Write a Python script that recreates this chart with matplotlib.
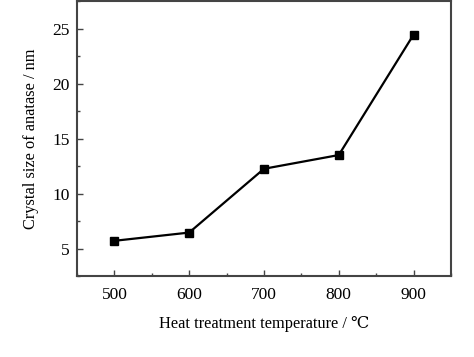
import matplotlib
matplotlib.use('Agg')
import matplotlib.pyplot as plt
from matplotlib.ticker import MultipleLocator

plt.rcParams['font.family'] = ['Liberation Serif', 'DejaVu Serif', 'Noto Sans CJK SC']

temps = [500, 600, 700, 800, 900]
crystal_size = [5.7, 6.45, 12.25, 13.5, 24.45]

fig = plt.figure(figsize=(4.74, 3.57), dpi=100)
ax = fig.add_axes([0.1624, 0.2269, 0.789, 0.770])

ax.plot(temps, crystal_size, color='black', lw=1.6, marker='s', ms=5.5)

ax.set_xlim(450, 950)
ax.set_ylim(2.5, 27.5)
ax.xaxis.set_major_locator(MultipleLocator(100))
ax.xaxis.set_minor_locator(MultipleLocator(50))
ax.yaxis.set_major_locator(MultipleLocator(5))
ax.yaxis.set_minor_locator(MultipleLocator(2.5))
ax.tick_params(which='both', direction='in', color='#444444', labelsize=12.5)
ax.tick_params(which='major', length=4, width=1)
ax.tick_params(which='minor', length=2.5, width=1)
ax.tick_params(axis='x', pad=8)
ax.tick_params(axis='y', pad=5)
for s in ax.spines.values():
    s.set_color('#444444')
    s.set_linewidth(1.5)

ax.set_xlabel('Heat treatment temperature / ℃', fontsize=11.8, labelpad=9)
ax.set_ylabel('Crystal size of anatase / nm', fontsize=11.8, labelpad=10)

fig.savefig('out.png', dpi=100)
